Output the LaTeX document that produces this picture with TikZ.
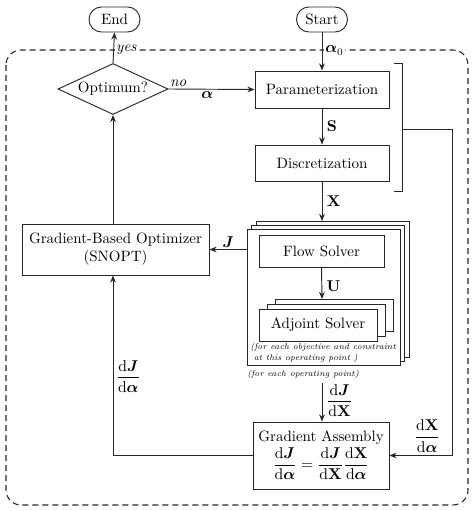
\documentclass[tikz,border=0pt]{standalone}
\usepackage{amsmath,bm}
\usetikzlibrary{arrows.meta,shapes.geometric}
\definecolor{ln}{HTML}{262626}
\tikzset{
  every node/.style={font=\fontsize{10.5}{12.5}\selectfont, text=black},
  box/.style={draw=ln, line width=0.65pt, rectangle, inner sep=1pt, fill=white, align=center},
  term/.style={draw=ln, line width=0.65pt, rectangle, rounded corners=8.75pt, minimum width=35.7pt, minimum height=17.5pt, inner sep=1pt},
  conn/.style={draw=ln, line width=0.65pt, -{Stealth[length=5pt,width=4pt]}},
  plain/.style={draw=ln, line width=0.65pt},
  note/.style={font=\fontsize{5.9}{7.2}\selectfont\itshape, inner sep=0pt, align=left, anchor=west},
  lbl/.style={inner sep=1pt}
}
\begin{document}
\begin{tikzpicture}[x=0.7pt,y=-0.7pt]
\useasboundingbox (0,0) rectangle (474,511);
% dashed outer loop
\draw[ln, line width=0.75pt, dash pattern=on 4.2pt off 2.8pt, rounded corners=10.5pt] (6,50) rectangle (468,505);

% terminals
\node[term] (end) at (114.5,19.5) {End};
\node[term] (start) at (322,19.5) {Start};

% decision
\node[draw=ln, line width=0.65pt, diamond, aspect=2.2, minimum width=77pt, minimum height=35.7pt, inner sep=0pt, fill=white] (opt) at (113,89) {Optimum?};

% parameterization / discretization
\node[box, minimum width=93.8pt, minimum height=25.9pt] (param) at (322,89.5) {Parameterization};
\node[box, minimum width=93.8pt, minimum height=25.2pt] (disc) at (322,163) {Discretization};

% operating point stack
\node[box, minimum width=107.1pt, minimum height=95.2pt] (stackc) at (332.5,289) {};
\node[box, minimum width=107.1pt, minimum height=95.2pt] (stackb) at (328,293) {};
\node[box, minimum width=107.1pt, minimum height=95.2pt] (stack) at (323.5,297) {};

\node[box, minimum width=87.5pt, minimum height=22.4pt] (flow) at (321.5,251) {Flow Solver};

\node[box, minimum width=82.6pt, minimum height=22.4pt] (adjc) at (334,315) {};
\node[box, minimum width=82.6pt, minimum height=22.4pt] (adjb) at (326,320) {};
\node[box, minimum width=82.6pt, minimum height=22.4pt] (adj) at (318,325) {Adjoint Solver};

\node[note] (objnote) at (250,353) {(for each objective and constraint\\\ at this operating point )};
\node[note] (opnote) at (247,374) {(for each operating point)};

% optimizer
\node[box, minimum width=130.9pt, minimum height=35.7pt] (optim) at (115.5,249.5) {Gradient-Based Optimizer\\(SNOPT)};

% gradient assembly
\node[box, minimum width=95.2pt, minimum height=46.9pt] (grad) at (321,455.5) {Gradient Assembly\\[1pt]
$\dfrac{\mathrm{d}\bm{J}}{\mathrm{d}\bm{\alpha}} = \dfrac{\mathrm{d}\bm{J}}{\mathrm{d}\mathbf{X}}\dfrac{\mathrm{d}\mathbf{X}}{\mathrm{d}\bm{\alpha}}$};

% coordinates
\coordinate (stacktop) at (322,221);
\coordinate (adjtop) at (322,299);
\coordinate (dJdXstart) at (322,383);
\coordinate (brtop) at (394,63);
\coordinate (brbot) at (394,191);
\coordinate (brmid) at (402,129);
\coordinate (rc1) at (452,129);

% connectors
\draw[conn] (start.south) -- node[lbl, right, pos=0.47, fill=white, xshift=1pt] {$\bm{\alpha}_0$} (param.north);
\draw[conn] (opt.north) -- node[lbl, right, pos=0.42, fill=white, xshift=0.5pt] {\textit{yes}} (end.south);
\draw[conn] (opt.east) -- node[lbl, above, pos=0.08, xshift=2pt] {\textit{no}} node[lbl, below, pos=0.45] {$\bm{\alpha}$} (param.west);
\draw[conn] (param.south) -- node[lbl, right, xshift=2pt] {$\mathbf{S}$} (disc.north);
\draw[conn] (disc.south) -- node[lbl, right, xshift=2pt] {$\mathbf{X}$} (stacktop);
\draw[conn] (flow.south) -- node[lbl, right, xshift=2pt, pos=0.6] {$\mathbf{U}$} (adjtop);
\draw[conn] (stack.west |- optim.east) -- node[lbl, above, pos=0.5] {$\bm{J}$} (optim.east);
\draw[conn] (dJdXstart) -- node[lbl, right, xshift=2pt, pos=0.45] {$\dfrac{\mathrm{d}\bm{J}}{\mathrm{d}\mathbf{X}}$} (grad.north -| dJdXstart);
\draw[conn] (grad.west) -| node[lbl, right, pos=0.72, xshift=1pt] {$\dfrac{\mathrm{d}\bm{J}}{\mathrm{d}\bm{\alpha}}$} (optim.south -| opt.south);
\draw[conn] (optim.north -| opt.south) -- (opt.south);
\draw[plain] (brtop) -| (brmid |- brbot) -- (brbot);
\draw[conn] (brmid) -- (rc1) |- node[lbl, above left, pos=0.58, yshift=1pt] {$\dfrac{\mathrm{d}\mathbf{X}}{\mathrm{d}\bm{\alpha}}$} (grad.east);
\end{tikzpicture}
\end{document}
